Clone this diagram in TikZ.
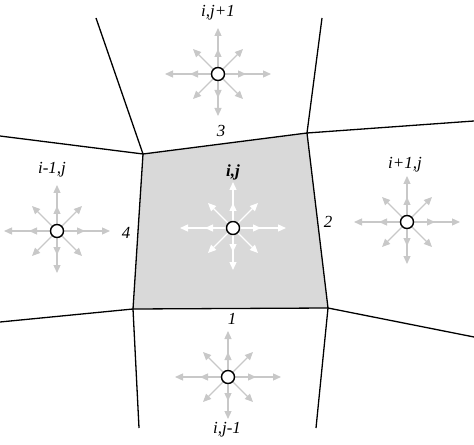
\documentclass[tikz,border=0pt]{standalone}
\usepackage{fontspec}
\setmainfont{Liberation Serif}
\usetikzlibrary{arrows.meta}
\definecolor{cellgray}{RGB}{217,217,217}
\definecolor{arrgray}{RGB}{200,200,200}
\tikzset{
  edge/.style={line width=1.3bp, black},
  flow/.style={line width=1.3bp, -{Triangle[length=8bp,width=7bp]}},
  centre/.style={circle, draw=black, fill=white, line width=1.4bp, minimum size=13bp, inner sep=0pt},
  lab/.style={font=\fontsize{17}{17}\selectfont\itshape, inner sep=0pt},
}
\newcommand\dirfan[2]{%
  \foreach \dx/\dy in {53/0,-53/0,0/-46,0/42,28/0,-28/0,0/-25,0/24,25/-25,-25/-25,25/25,-25/25}
    \draw[flow,#2] (#1) -- ++(\dx,\dy);
}
\begin{document}
\begin{tikzpicture}[x=1bp,y=-1bp]
\useasboundingbox (0,0) rectangle (474,445);
% corners
\coordinate (A) at (143,154);
\coordinate (B) at (307,133);
\coordinate (C) at (328,308);
\coordinate (D) at (133,309);
\coordinate (Atop) at (96,18);
\coordinate (Aleft) at (0,136);
\coordinate (Btop) at (322,18);
\coordinate (Bright) at (474,121);
\coordinate (Cright) at (474,337);
\coordinate (Cbot) at (316,428);
\coordinate (Dbot) at (139,428);
\coordinate (Dleft) at (0,322);
\fill[cellgray] (A) -- (B) -- (C) -- (D) -- cycle;
% cell centres
\coordinate (pc) at (233,228);
\coordinate (pt) at (218,74);
\coordinate (pb) at (228,377);
\coordinate (pl) at (57,231);
\coordinate (pr) at (407,222);
\dirfan{pc}{white}
\dirfan{pt}{arrgray}
\dirfan{pb}{arrgray}
\dirfan{pl}{arrgray}
\dirfan{pr}{arrgray}
\draw[edge] (A) -- (B) -- (C) -- (D) -- cycle;
\draw[edge] (A) -- (Atop);
\draw[edge] (A) -- (Aleft);
\draw[edge] (B) -- (Btop);
\draw[edge] (B) -- (Bright);
\draw[edge] (C) -- (Cright);
\draw[edge] (C) -- (Cbot);
\draw[edge] (D) -- (Dbot);
\draw[edge] (D) -- (Dleft);
\node[centre] (nc) at (pc) {};
\node[centre] (nt) at (pt) {};
\node[centre] (nb) at (pb) {};
\node[centre] (nl) at (pl) {};
\node[centre] (nr) at (pr) {};
% labels
\node[lab] (lt) at (218,13) {i,j+1};
\node[lab] (ll) at (52,170) {i-1,j};
\node[lab] (lr) at (405,165) {i+1,j};
\node[lab] (lb) at (227,430) {i,j-1};
\node[lab,font=\fontsize{17}{17}\selectfont\bfseries\itshape] (lc) at (233,172) {i,j};
\node[lab] (e3) at (221,131) {3};
\node[lab] (e4) at (126,233) {4};
\node[lab] (e2) at (328,222) {2};
\node[lab] (e1) at (232,319) {1};
\end{tikzpicture}
\end{document}
